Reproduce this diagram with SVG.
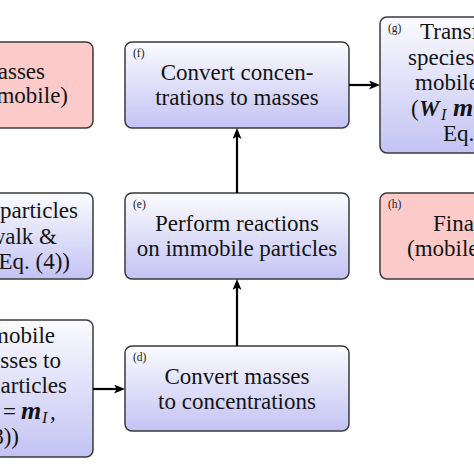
<svg xmlns="http://www.w3.org/2000/svg" width="474" height="474" viewBox="0 0 474 474" font-family="'Liberation Serif', 'DejaVu Serif', serif">
<style>
.box{stroke:#3a3a3a;stroke-width:1.5}
.blue{fill:url(#gb)}
.red{fill:#fdcaca}
.t{font-size:23px;fill:#141414}
.c{text-anchor:middle}
.e{text-anchor:end}
.lbl{font-size:11.5px;fill:#222}
.bi{font-weight:bold;font-style:italic}
.sub{font-style:italic;font-size:16px}
.conn line{stroke:#000;stroke-width:2.2;marker-end:url(#ah)}
</style>
<defs>
<linearGradient id="gb" x1="0" y1="0" x2="0" y2="1">
<stop offset="0" stop-color="#fbfbff"/>
<stop offset="1" stop-color="#c3c3f4"/>
</linearGradient>
<marker id="ah" viewBox="0 0 11 9" refX="7" refY="4.5" markerWidth="11" markerHeight="9" markerUnits="userSpaceOnUse" orient="auto">
<path d="M0,0 L11,4.5 L0,9 L2.8,4.5 z" fill="#000"/>
</marker>
</defs>

<g id="node-a">
<rect class="box red" x="-131" y="42" width="224" height="86" rx="7"/>
<text class="t e" x="45" y="79">Initial masses</text>
<text class="t e" x="68" y="103">(mobile &amp; immobile)</text>
</g>

<g id="node-b">
<rect class="box blue" x="-131" y="193" width="224" height="86" rx="7"/>
<text class="t e" x="78" y="218">Move mobile particles</text>
<text class="t e" x="57" y="243.5">(random walk &amp;</text>
<text class="t e" x="70" y="269">mass transfer, Eq. (4))</text>
</g>

<g id="node-c">
<rect class="box blue" x="-131" y="320" width="224" height="137" rx="7"/>
<text class="t e" x="55" y="342.5">Map immobile</text>
<text class="t e" x="61" y="368">immobile masses to</text>
<text class="t e" x="67" y="393">immobile particles</text>
<text class="t" y="418.5"><tspan x="-52">(<tspan class="bi">W</tspan><tspan class="sub" dy="4">I</tspan><tspan dy="-4"> </tspan></tspan><tspan x="3">=</tspan><tspan x="21" class="bi" style="font-size:26px">m</tspan><tspan x="42" class="sub" dy="4">I</tspan><tspan x="50" dy="-4">,</tspan></text>
<text class="t e" x="19" y="444">Eq. (8))</text>
</g>

<g id="node-d">
<rect class="box blue" x="125" y="346" width="224" height="85" rx="7"/>
<text class="lbl" x="133" y="361">(d)</text>
<text class="t c" x="237" y="384">Convert masses</text>
<text class="t c" x="237" y="409">to concentrations</text>
</g>

<g id="node-e">
<rect class="box blue" x="125" y="193" width="224" height="86" rx="7"/>
<text class="lbl" x="133" y="208">(e)</text>
<text class="t c" x="237" y="231">Perform reactions</text>
<text class="t c" x="237" y="256">on immobile particles</text>
</g>

<g id="node-f">
<rect class="box blue" x="125" y="42" width="224" height="86" rx="7"/>
<text class="lbl" x="133" y="57">(f)</text>
<text class="t c" x="237" y="80">Convert concen-</text>
<text class="t c" x="237" y="105">trations to masses</text>
</g>

<g id="node-g">
<rect class="box blue" x="380" y="17" width="224" height="136" rx="7"/>
<text class="lbl" x="388" y="32">(g)</text>
<text class="t" x="420" y="39">Transfer</text>
<text class="t" x="408" y="64.5">species between</text>
<text class="t" x="415" y="90">mobile &amp; immobile</text>
<text class="t" y="115.5"><tspan x="411">(</tspan><tspan x="419" class="bi">W</tspan><tspan x="441" class="sub" dy="4">I</tspan><tspan x="453" dy="-4" class="bi" style="font-size:26px">m</tspan><tspan x="474" class="sub" dy="4">I</tspan></text>
<text class="t" x="443" y="141">Eq. (9))</text>
</g>

<g id="node-h">
<rect class="box red" x="380" y="193" width="224" height="86" rx="7"/>
<text class="lbl" x="388" y="208">(h)</text>
<text class="t" x="433" y="231">Final masses</text>
<text class="t" x="407" y="256">(mobile &amp; immobile)</text>
</g>

<g id="connectors" class="conn">
<line x1="93" y1="389" x2="121" y2="389"/>
<line x1="237" y1="346" x2="237" y2="283"/>
<line x1="237" y1="193" x2="237" y2="132"/>
<line x1="349" y1="85" x2="376" y2="85"/>
</g>
</svg>
